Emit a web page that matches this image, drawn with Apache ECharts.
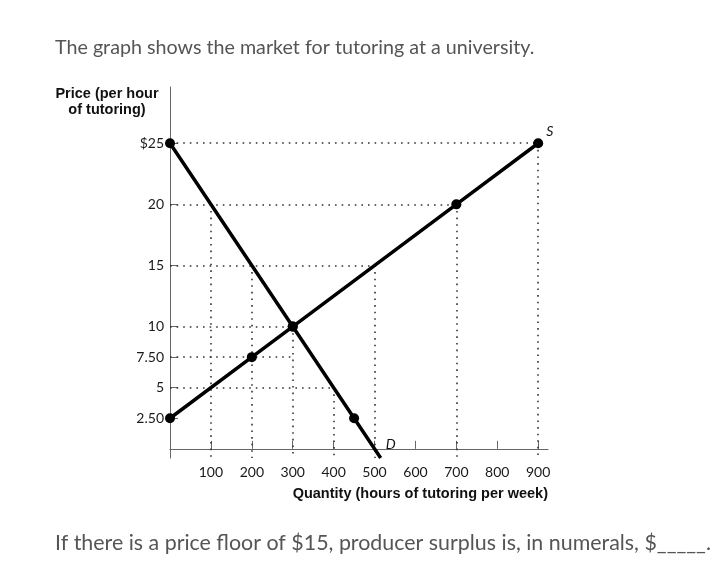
<!DOCTYPE html>
<html>
<head>
<meta charset="utf-8">
<script src="https://cdn.jsdelivr.net/npm/echarts@6/dist/echarts.min.js"></script>
<style>
html,body{margin:0;padding:0;background:#fff;}
#chart{width:728px;height:581px;}
</style>
</head>
<body>
<div id="chart"></div>
<script>
// ---- data ----
const titleText = 'The graph shows the market for tutoring at a university.';
const questionText = 'If there is a price floor of $15, producer surplus is, in numerals, $_____.';
const yAxisName = 'Price (per hour\nof tutoring)';
const xAxisName = 'Quantity (hours of tutoring per week)';

const supplyQ = [0, 200, 300, 700, 900];
const supplyP = [2.5, 7.5, 10, 20, 25];
const demandQ = [0, 300, 450, 515];
const demandP = [25, 10, 2.5, -0.75];
const demandDots = [true, true, true, false];

const yTickValues = [2.5, 5, 7.5, 10, 15, 20, 25];
const yTickLabels = ['2.50', '5', '7.50', '10', '15', '20', '$25'];
const xTickValues = [100, 200, 300, 400, 500, 600, 700, 800, 900];
const xTickLabels = ['100', '200', '300', '400', '500', '600', '700', '800', '900'];

// dotted guides: horizontal [price, qEnd], vertical [q, pTop]
const hGuides = [[25, 900], [20, 700], [15, 500], [10, 300], [7.5, 300], [5, 400]];
const vGuides = [[100, 20], [200, 15], [300, 10], [400, 5], [500, 15], [700, 20], [900, 25]];

const Y_MIN = -0.75, Y_MAX = 29.6, X_MIN = 0, X_MAX = 924;

// ---- build ----
const guideData = [];
hGuides.forEach(g => guideData.push({coords: [[X_MIN, g[0]], [g[1], g[0]]]}));
vGuides.forEach(g => guideData.push({coords: [[g[0], g[1]], [g[0], Y_MIN]]}));

const supplyData = supplyQ.map((q, i) => [q, supplyP[i]]);
const demandData = demandQ.map((q, i) => ({
  value: [q, demandP[i]],
  symbolSize: demandDots[i] ? 10 : 0
}));

const chartFont = 'Lato, "Liberation Sans", sans-serif';
const nameFont = '"Liberation Sans", Arial, sans-serif';
const textFont = 'Lato, "Noto Sans", sans-serif';

const chart = echarts.init(document.getElementById('chart'), null, {renderer: 'canvas'});
chart.setOption({
  animation: false,
  backgroundColor: '#fff',
  title: [
    {text: titleText, left: 55, top: 38, padding: 0,
     textStyle: {fontFamily: textFont, fontSize: 19.7, fontWeight: 'normal', color: '#555'}},
    {text: questionText, left: 55, top: 533, padding: 0,
     textStyle: {fontFamily: textFont, fontSize: 21.4, fontWeight: 'normal', color: '#555'}}
  ],
  grid: {left: 170, right: 180, top: 87, bottom: 123, containLabel: false},
  xAxis: {
    type: 'value', min: X_MIN, max: X_MAX,
    splitLine: {show: false},
    axisLine: {show: true, lineStyle: {color: '#666', width: 1}},
    axisTick: {show: true, inside: true, length: 8, customValues: xTickValues, lineStyle: {color: '#666'}},
    axisLabel: {show: true, customValues: xTickValues, margin: 7,
      formatter: v => xTickLabels[xTickValues.indexOf(v)],
      fontFamily: chartFont, fontSize: 14, color: '#1a1a1a'}
  },
  yAxis: {
    type: 'value', min: Y_MIN, max: Y_MAX,
    splitLine: {show: false},
    axisLine: {show: true, lineStyle: {color: '#666', width: 1}},
    axisTick: {show: true, inside: true, length: 8, customValues: yTickValues, lineStyle: {color: '#666'}},
    axisLabel: {show: true, customValues: yTickValues, margin: 6,
      formatter: v => yTickLabels[yTickValues.indexOf(v)],
      fontFamily: chartFont, fontSize: 14, color: '#1a1a1a'}
  },
  graphic: [
    {type: 'text', x: 107, y: 86,
     style: {text: yAxisName, font: 'bold 14.5px ' + nameFont, fill: '#111', align: 'center', verticalAlign: 'top', lineHeight: 16}},
    {type: 'text', x: 548, y: 486,
     style: {text: xAxisName, font: 'bold 14.5px ' + nameFont, fill: '#111', align: 'right', verticalAlign: 'top'}}
  ],
  series: [
    {
      type: 'lines', coordinateSystem: 'cartesian2d', z: 1, silent: true,
      lineStyle: {color: '#333', width: 1.6, type: [1.6, 5], opacity: 1},
      data: guideData
    },
    {
      name: 'S', type: 'line', z: 3, data: supplyData,
      symbol: 'circle', symbolSize: 10,
      itemStyle: {color: '#000'},
      lineStyle: {color: '#000', width: 3.5},
      endLabel: {show: true, formatter: 'S', fontStyle: 'italic', fontFamily: chartFont,
        fontSize: 14, color: '#111', offset: [0, -12]}
    },
    {
      name: 'D', type: 'line', z: 3, data: demandData,
      symbol: 'circle',
      itemStyle: {color: '#000'},
      lineStyle: {color: '#000', width: 3.5, cap: 'butt'},
      endLabel: {show: true, formatter: 'D', fontStyle: 'italic', fontFamily: chartFont,
        fontSize: 14, color: '#111', offset: [-3, -14]}
    }
  ]
});
</script>
</body>
</html>
